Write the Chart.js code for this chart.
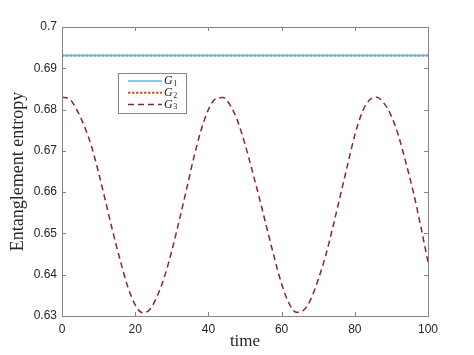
<!DOCTYPE html>
<html>
<head>
<meta charset="utf-8">
<script src="https://cdn.jsdelivr.net/npm/chart.js@4.4.1/dist/chart.umd.min.js"></script>
<style>
  html, body { margin: 0; padding: 0; background: #fff; }
  #wrap { width: 474px; height: 355px; }
</style>
</head>
<body>
<div id="wrap"><canvas id="chart" width="474" height="355"></canvas></div>
<script>
// values
const flatTime = [0, 100];
const g1Values = [0.6931, 0.6931];
const g2Values = [0.6931, 0.6931];

const g3Time = [0, 2, 4, 6, 8, 10, 12, 14, 16, 18, 20, 22, 24, 26, 28, 30, 32, 34, 36, 38,
    40, 42, 44, 46, 48, 50, 52, 54, 56, 58, 60, 62, 64, 66, 68, 70, 72, 74, 76, 78,
    80, 82, 84, 86, 88, 90, 92, 94, 96, 98, 100];
const g3Values = [0.6830, 0.6826, 0.6800, 0.6762, 0.6713, 0.6647, 0.6574, 0.6500, 0.6432, 0.6370,
    0.6327, 0.6308, 0.6316, 0.6348, 0.6395, 0.6458, 0.6530, 0.6606, 0.6683, 0.6750,
    0.6800, 0.6826, 0.6829, 0.6810, 0.6772, 0.6716, 0.6651, 0.6583, 0.6512, 0.6442,
    0.6378, 0.6331, 0.6309, 0.6314, 0.6341, 0.6388, 0.6445, 0.6515, 0.6590, 0.6665,
    0.6738, 0.6793, 0.6823, 0.6830, 0.6815, 0.6784, 0.6735, 0.6670, 0.6600, 0.6518, 0.6431];

const xTicks = [0, 20, 40, 60, 80, 100];
const yTicks = [0.63, 0.64, 0.65, 0.66, 0.67, 0.68, 0.69, 0.7];
const yTickLabels = ['0.63', '0.64', '0.65', '0.66', '0.67', '0.68', '0.69', '0.7'];
const seriesNames = ['G1', 'G2', 'G3'];

const pts = (xs, ys) => xs.map((x, i) => ({ x: x, y: ys[i] }));

const axisColor = '#858585';
const textColor = '#262626';

// box around the plot with inward ticks on all four sides
const boxTicks = {
    id: 'boxTicks',
    afterDraw(chart) {
        const { ctx, chartArea: a, scales } = chart;
        ctx.save();
        ctx.strokeStyle = axisColor;
        ctx.lineWidth = 1;
        ctx.strokeRect(Math.round(a.left) + 0.5, Math.round(a.top) + 0.5,
            Math.round(a.right - a.left), Math.round(a.bottom - a.top));
        const len = 4;
        ctx.beginPath();
        xTicks.forEach(v => {
            const x = Math.round(scales.x.getPixelForValue(v)) + 0.5;
            ctx.moveTo(x, a.bottom); ctx.lineTo(x, a.bottom - len);
            ctx.moveTo(x, a.top); ctx.lineTo(x, a.top + len);
        });
        yTicks.forEach(v => {
            const y = Math.round(scales.y.getPixelForValue(v)) + 0.5;
            ctx.moveTo(a.left, y); ctx.lineTo(a.left + len, y);
            ctx.moveTo(a.right, y); ctx.lineTo(a.right - len, y);
        });
        ctx.stroke();
        ctx.restore();
    }
};

// legend box inside the axes, like the matlab one
const boxLegend = {
    id: 'boxLegend',
    afterDraw(chart) {
        const ctx = chart.ctx;
        const bx = 118.5, by = 73.5, bw = 68, bh = 40;
        ctx.save();
        ctx.fillStyle = '#fff';
        ctx.fillRect(bx, by, bw, bh);
        ctx.strokeStyle = axisColor;
        ctx.lineWidth = 1;
        ctx.strokeRect(bx, by, bw, bh);
        chart.data.datasets.forEach((ds, i) => {
            const y = 81 + i * 11.7;
            ctx.beginPath();
            ctx.strokeStyle = ds.borderColor;
            ctx.lineWidth = ds.borderWidth;
            ctx.setLineDash(ds.borderDash || []);
            ctx.moveTo(128, y);
            ctx.lineTo(162, y);
            ctx.stroke();
            ctx.setLineDash([]);
            ctx.fillStyle = textColor;
            ctx.textBaseline = 'middle';
            ctx.textAlign = 'left';
            ctx.font = 'italic 12px "Liberation Serif", serif';
            ctx.fillText(seriesNames[i][0], 164, y);
            const w = ctx.measureText(seriesNames[i][0]).width;
            ctx.font = '8px "Liberation Serif", serif';
            ctx.fillText(seriesNames[i].slice(1), 164 + w + 0.5, y + 3);
        });
        ctx.restore();
    }
};

new Chart(document.getElementById('chart'), {
    type: 'line',
    data: {
        datasets: [
            {
                label: 'G1',
                data: pts(flatTime, g1Values),
                borderColor: '#4DBEEE',
                borderWidth: 1.5,
                pointRadius: 0
            },
            {
                label: 'G2',
                data: pts(flatTime, g2Values),
                borderColor: '#D95319',
                borderWidth: 2,
                borderDash: [2.5, 1.5],
                pointRadius: 0
            },
            {
                label: 'G3',
                data: pts(g3Time, g3Values),
                borderColor: '#8E1E45',
                borderWidth: 1.5,
                borderDash: [6, 4],
                pointRadius: 0,
                cubicInterpolationMode: 'monotone'
            }
        ]
    },
    options: {
        responsive: false,
        animation: false,
        layout: { padding: { top: 27, right: 46, left: 0, bottom: 0 } },
        plugins: {
            legend: { display: false },
            tooltip: { enabled: false }
        },
        scales: {
            x: {
                type: 'linear',
                min: 0,
                max: 100,
                afterBuildTicks: s => { s.ticks = xTicks.map(v => ({ value: v })); },
                afterFit: s => { s.height = 39; },
                grid: { display: false, drawTicks: false },
                border: { display: false },
                ticks: {
                    padding: 6,
                    color: textColor,
                    maxRotation: 0,
                    font: { family: '"Liberation Sans", Arial, sans-serif', size: 12 }
                },
                title: {
                    display: true,
                    text: 'time',
                    color: textColor,
                    padding: { top: 0, bottom: 3 },
                    font: { family: '"Liberation Serif", serif', size: 17 }
                }
            },
            y: {
                min: 0.63,
                max: 0.7,
                afterBuildTicks: s => { s.ticks = yTicks.map(v => ({ value: v })); },
                afterFit: s => { s.width = 62; },
                grid: { display: false, drawTicks: false },
                border: { display: false },
                ticks: {
                    padding: 5,
                    color: textColor,
                    font: { family: '"Liberation Sans", Arial, sans-serif', size: 12 },
                    callback: (v, i) => yTickLabels[i]
                },
                title: {
                    display: true,
                    text: 'Entanglement entropy',
                    color: textColor,
                    padding: { top: 7, bottom: 0 },
                    font: { family: '"Liberation Serif", serif', size: 18 }
                }
            }
        }
    },
    plugins: [boxTicks, boxLegend]
});
</script>
</body>
</html>
